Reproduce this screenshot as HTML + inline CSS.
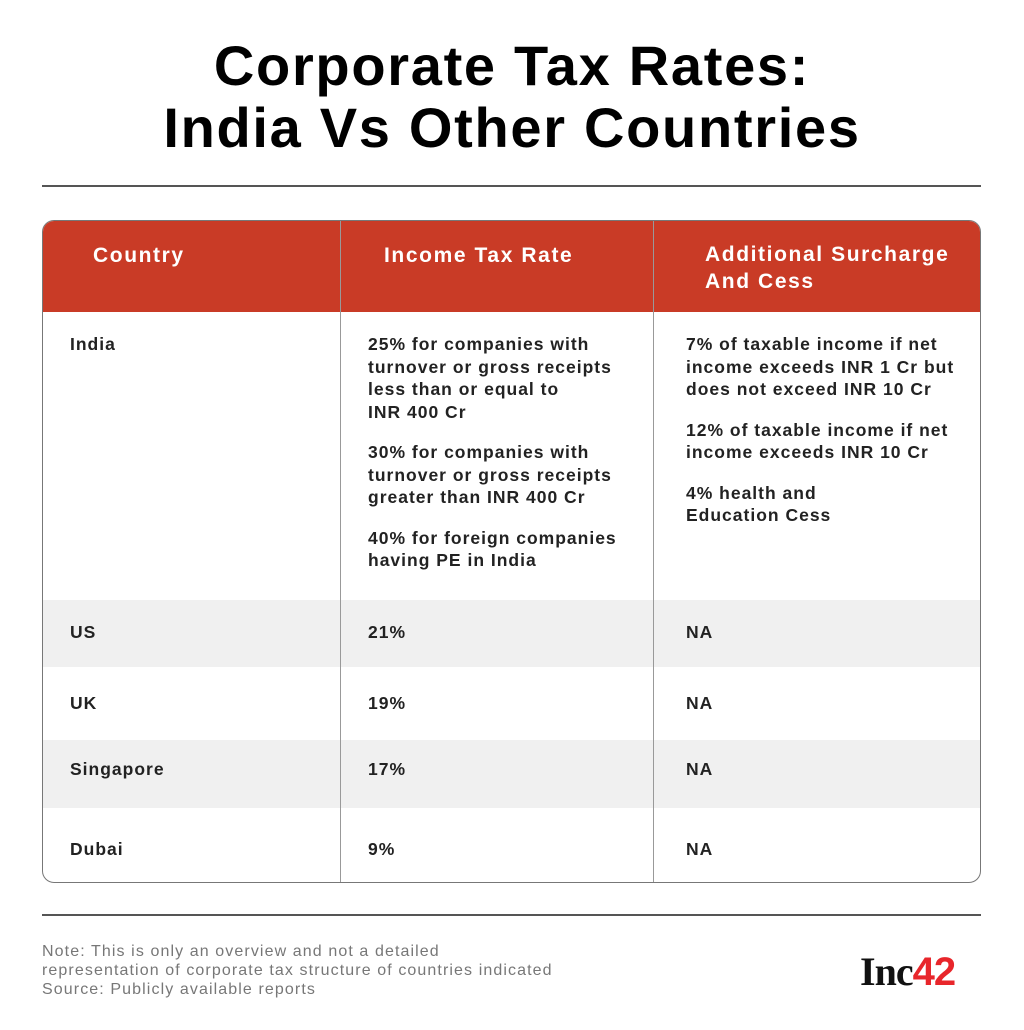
<!DOCTYPE html>
<html><head><meta charset="utf-8"><style>
body{margin:0;width:1024px;height:1030px;background:#fff;font-family:"Liberation Sans",sans-serif;position:relative;overflow:hidden;color:#111}
.a{position:absolute}
h1{position:absolute;left:0;width:1024px;top:35px;margin:0;text-align:center;font-size:56px;line-height:62px;font-weight:bold;color:#000;letter-spacing:1.7px}
.rule{position:absolute;left:42px;width:939px;height:2px;background:#555}
.tbl{position:absolute;left:42px;top:220px;width:937px;height:661px;border:1px solid #777;border-radius:12px;overflow:hidden}
.hd{position:absolute;left:0;top:0;width:100%;height:91px;background:#c93b26}
.ht{position:absolute;color:#fff;font-weight:bold;font-size:21px;line-height:27px;letter-spacing:1.6px}
.row{position:absolute;left:0;width:100%}
.g{background:#f0f0f0}
.vl{position:absolute;top:0;width:1px;height:100%;background:#999}
.t{position:absolute;font-size:17.5px;line-height:22.5px;font-weight:bold;color:#222;letter-spacing:1px;white-space:nowrap}
.t p{margin:0 0 18px 0}
.note{position:absolute;left:42px;top:942px;font-size:16px;line-height:19px;color:#777;letter-spacing:1.1px;white-space:nowrap}
</style></head><body>
<h1>Corporate Tax Rates:<br>India Vs Other Countries</h1>
<div class="rule" style="top:185px"></div>
<div class="tbl">
 <div class="hd"></div>
 <div class="row g" style="top:379px;height:67px"></div>
 <div class="row g" style="top:519px;height:68px"></div>
 <div class="vl" style="left:297px"></div>
 <div class="vl" style="left:610px"></div>
 <div class="ht" style="left:50px;top:21px">Country</div>
 <div class="ht" style="left:341px;top:21px">Income Tax Rate</div>
 <div class="ht" style="left:662px;top:20px">Additional Surcharge<br>And Cess</div>
 <div class="t" style="left:27px;top:112px">India</div>
 <div class="t" style="left:325px;top:112px"><p>25% for companies with<br>turnover or gross receipts<br>less than or equal to<br>INR 400 Cr</p><p>30% for companies with<br>turnover or gross receipts<br>greater than INR 400 Cr</p><p>40% for foreign companies<br>having PE in India</p></div>
 <div class="t" style="left:643px;top:112px"><p>7% of taxable income if net<br>income exceeds INR 1 Cr but<br>does not exceed INR 10 Cr</p><p>12% of taxable income if net<br>income exceeds INR 10 Cr</p><p>4% health and<br>Education Cess</p></div>
 <div class="t" style="left:27px;top:400px">US</div>
 <div class="t" style="left:325px;top:400px">21%</div>
 <div class="t" style="left:643px;top:400px">NA</div>
 <div class="t" style="left:27px;top:471px">UK</div>
 <div class="t" style="left:325px;top:471px">19%</div>
 <div class="t" style="left:643px;top:471px">NA</div>
 <div class="t" style="left:27px;top:537px">Singapore</div>
 <div class="t" style="left:325px;top:537px">17%</div>
 <div class="t" style="left:643px;top:537px">NA</div>
 <div class="t" style="left:27px;top:617px">Dubai</div>
 <div class="t" style="left:325px;top:617px">9%</div>
 <div class="t" style="left:643px;top:617px">NA</div>
</div>
<div class="rule" style="top:914px"></div>
<div class="note">Note: This is only an overview and not a detailed<br>representation of corporate tax structure of countries indicated<br>Source: Publicly available reports</div>
<div class="a" style="left:860px;top:950px;font-family:'Liberation Serif',serif;font-weight:bold;font-size:40px;line-height:44px;letter-spacing:-1px"><span style="color:#111">Inc</span><span style="color:#e8262b;font-family:'Liberation Sans',sans-serif">42</span></div>
</body></html>
